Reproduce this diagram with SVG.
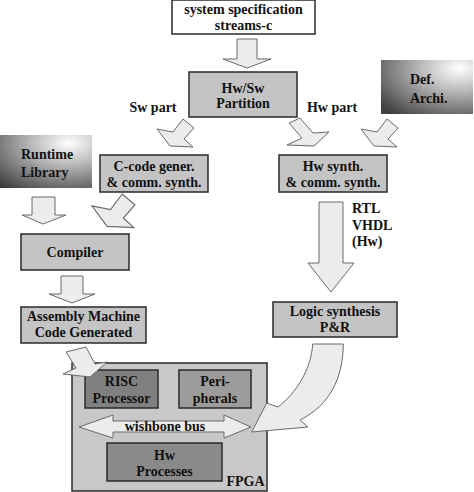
<svg xmlns="http://www.w3.org/2000/svg" width="474" height="492" viewBox="0 0 474 492">
<style>
.box{fill:#c4c4c4;stroke:#2a2a2a;stroke-width:1.5}
.arr{fill:#ececec;stroke:#6a6a6a;stroke-width:1}
text{font-weight:bold;font-size:14px;fill:#111;text-anchor:middle}
.l{text-anchor:start}
</style>
<defs>
<radialGradient id="g1" cx="0.85" cy="0.15" r="1.1">
<stop offset="0" stop-color="#ffffff"/>
<stop offset="0.35" stop-color="#c0c0c0"/>
<stop offset="1" stop-color="#404040"/>
</radialGradient>
<radialGradient id="g2" cx="0.75" cy="0.15" r="1.1">
<stop offset="0" stop-color="#ffffff"/>
<stop offset="0.4" stop-color="#b4b4b4"/>
<stop offset="1" stop-color="#3a3a3a"/>
</radialGradient>
<polygon id="diag" points="26,0 37,9 27,20 36,28 13,27 0,10 16,13"/>
</defs>
<rect width="474" height="492" fill="#fff"/>
<g font-family="Liberation Serif, DejaVu Serif, serif">
<g id="spec"><rect x="172" y="0" width="143" height="34" fill="#fff" stroke="#2a2a2a" stroke-width="1.5"/>
<text x="243.5" y="14">system specification</text><text x="243.5" y="30">streams-c</text></g>
<g id="partition"><rect class="box" x="189" y="72" width="108" height="45"/>
<text x="243" y="93">Hw/Sw</text><text x="243" y="108">Partition</text></g>
<g id="swpart"><text x="153" y="112">Sw part</text></g>
<g id="hwpart"><text x="332" y="112">Hw part</text></g>
<g id="defarchi"><rect x="381" y="60" width="92" height="54" fill="url(#g1)"/>
<text class="l" x="410" y="84">Def.</text><text class="l" x="410" y="103">Archi.</text></g>
<g id="runtime"><rect x="0" y="135" width="92" height="53" fill="url(#g2)"/>
<text class="l" x="21" y="159">Runtime</text><text class="l" x="21" y="177">Library</text></g>
<g id="ccode"><rect class="box" x="100" y="155" width="108" height="37"/>
<text x="154" y="171">C-code gener.</text><text x="154" y="187">&amp; comm. synth.</text></g>
<g id="hwsynth"><rect class="box" x="279" y="155" width="108" height="37"/>
<text x="333" y="171">Hw synth.</text><text x="333" y="187">&amp; comm. synth.</text></g>
<g id="rtl"><text class="l" x="352" y="213">RTL</text><text class="l" x="352" y="230">VHDL</text><text class="l" x="352" y="246">(Hw)</text></g>
<g id="compiler"><rect class="box" x="21" y="234" width="108" height="36"/>
<text x="75" y="257">Compiler</text></g>
<g id="assembly"><rect class="box" x="21" y="307" width="125" height="36"/>
<text x="83.5" y="321">Assembly Machine</text><text x="83.5" y="337">Code Generated</text></g>
<g id="logic"><rect class="box" x="273" y="302" width="124" height="35"/>
<text x="335" y="316">Logic synthesis</text><text x="335" y="332">P&amp;R</text></g>
<g id="fpga"><rect x="72" y="363" width="195" height="128" fill="#c8c8c8" stroke="#2a2a2a" stroke-width="1.5"/>
<text x="245.5" y="486">FPGA</text></g>
<g id="risc"><rect x="85" y="370" width="73" height="38" fill="#808080" stroke="#2a2a2a" stroke-width="1.5"/>
<text x="121.5" y="386">RISC</text><text x="121.5" y="403">Processor</text></g>
<g id="peri"><rect x="179" y="370" width="72" height="38" fill="#9c9c9c" stroke="#2a2a2a" stroke-width="1.5"/>
<text x="215" y="386">Peri-</text><text x="215" y="403">pherals</text></g>
<g id="bus"><polygon class="arr" points="79,427 113,415 113,421 224,421 224,415 251,427 224,438 224,432 113,432 113,438"/>
<text x="165" y="431">wishbone bus</text></g>
<g id="hwproc"><rect x="107" y="443" width="115" height="38" fill="#8a8a8a" stroke="#2a2a2a" stroke-width="1.5"/>
<text x="164.5" y="460">Hw</text><text x="164.5" y="476">Processes</text></g>
</g>
<g id="connectors">
<polygon class="arr" points="237,39 257,39 257,59 271,59 247,68 223,59 237,59"/>
<use href="#diag" class="arr" transform="translate(157,119)"/>
<use href="#diag" class="arr" transform="translate(361,119)"/>
<polygon class="arr" points="289,123 300,118 313,133 329,132 314,146 287,145 302,138"/>
<use href="#diag" class="arr" transform="translate(92,194) scale(1.16,1.2)"/>
<polygon class="arr" points="32,197 55,197 55,215 66,215 43,224 22,215 32,215"/>
<polygon class="arr" points="61,276 83,276 83,294 95,294 72,303 49,294 61,294"/>
<polygon class="arr" points="319,202 343,202 343,263 354,263 331,292 308,263 319,263"/>
<polygon class="arr" points="66,352 86,347 95,364 107,362 90,377 63,374 76,368"/>
<path class="arr" d="M312.7,344 L343.3,344 C343,378 330,405 300,420 L308,427 L251.7,432 L266.7,403 L278,407 C296,393 311,370 312.7,344 Z"/>
</g>
</svg>
